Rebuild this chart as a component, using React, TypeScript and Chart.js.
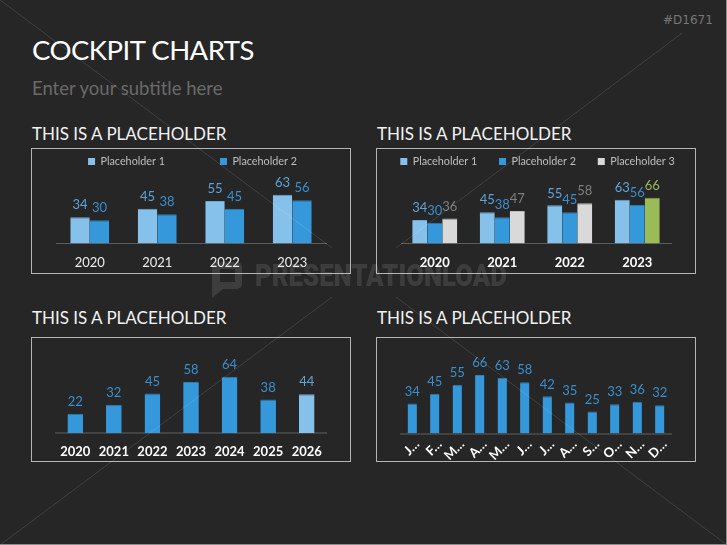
import React, { useEffect, useRef } from "react";
import { Chart, registerables } from "chart.js";

Chart.register(...registerables);

const years4 = ["2020", "2021", "2022", "2023"];
const years7 = ["2020", "2021", "2022", "2023", "2024", "2025", "2026"];
const months = ["J…", "F…", "M…", "A…", "M…", "J…", "J…", "A…", "S…", "O…", "N…", "D…"];

const series1 = [34, 45, 55, 63];
const series2 = [30, 38, 45, 56];
const series3 = [36, 47, 58, 66];
const sevenYears = [22, 32, 45, 58, 64, 38, 44];
const monthly = [34, 45, 55, 66, 63, 58, 42, 35, 25, 33, 36, 32];

const LIGHT = "#85c1ea";
const BLUE = "#3498db";
const GREY = "#d9d9d9";
const GREEN = "#9bbb59";
const LIGHT_EDGE = "#6fa9d2";
const BLUE_EDGE = "#2e7fb5";
const GREY_EDGE = "#bdbdbd";
const GREEN_EDGE = "#84a04b";
const LIGHT_TEXT = "#5fa3d8";
const BLUE_TEXT = "#3a8fd0";
const GREY_TEXT = "#7f7f7f";
const GREEN_TEXT = "#9bbb59";
const FONT = "Lato";

const valueLabels = {
  id: "valueLabels",
  afterDatasetsDraw(chart: any) {
    const ctx = chart.ctx;
    ctx.save();
    ctx.font = `13px ${FONT}`;
    ctx.textAlign = "center";
    ctx.textBaseline = "middle";
    chart.data.datasets.forEach((ds: any, i: number) => {
      chart.getDatasetMeta(i).data.forEach((bar: any, j: number) => {
        ctx.fillStyle = ds.labelColors[j];
        ctx.fillText(String(ds.data[j]), bar.x, bar.y - 12);
      });
    });
    ctx.restore();
  },
};

function ds(label: string, data: number[], fill: string[], edge: string[], text: string[]) {
  return {
    label,
    data,
    yAxisID: "y",
    backgroundColor: fill,
    borderColor: edge,
    borderWidth: { top: 1, left: 0, right: 0, bottom: 0 },
    labelColors: text,
    legendColor: fill[0],
  };
}
const all = (n: number, c: string) => Array.from({ length: n }, () => c);

type Cfg = {
  left: number; top: number; width: number; height: number;
  labels: string[]; datasets: any[]; pxPerUnit: number; axisH: number; catPct: number;
  tickPad: number; bold: boolean; rotate?: number; labelOffset?: number; axisW: number; axisC: string;
  legend: boolean; legendSpaces?: number;
};

const hiddenSideAxis = (position: string, width: number) => ({
  position,
  display: true,
  min: 0,
  max: 100,
  afterFit: (s: any) => { s.width = width; },
  grid: { display: false, drawTicks: false },
  border: { display: false },
  ticks: { display: false },
});

function Panel({ cfg }: { cfg: Cfg }) {
  const ref = useRef<HTMLCanvasElement>(null);
  useEffect(() => {
    const chart = new Chart(ref.current!, {
      type: "bar",
      data: { labels: cfg.labels, datasets: cfg.datasets },
      plugins: [valueLabels],
      options: {
        animation: false,
        responsive: false,
        layout: { padding: { left: 3, right: 0, top: 0, bottom: 0 } },
        datasets: { bar: { barPercentage: 1, categoryPercentage: cfg.catPct } },
        plugins: {
          tooltip: { enabled: false },
          legend: {
            display: cfg.legend,
            position: "top",
            align: "center",
            labels: {
              boxWidth: 7,
              boxHeight: 7,
              padding: 8,
              color: "#bfbfbf",
              font: { family: FONT, size: 10.8 },
              generateLabels: (c: any) =>
                c.data.datasets.map((d: any, i: number) => ({
                  text: i < c.data.datasets.length - 1 ? d.label + "\u00a0".repeat(cfg.legendSpaces ?? 0) : d.label,
                  fillStyle: d.legendColor,
                  strokeStyle: d.legendColor,
                  lineWidth: 0,
                  fontColor: "#bfbfbf",
                  datasetIndex: i,
                })),
            },
          },
        },
        scales: {
          y: hiddenSideAxis("left", 22),
          yRight: hiddenSideAxis("right", 25),
          x: {
            afterFit: (s: any) => { s.height = cfg.axisH; },
            grid: { display: false, drawTicks: false },
            border: { display: true, color: cfg.axisC, width: cfg.axisW },
            ticks: {
              color: cfg.bold ? "#ffffff" : "#eeeeee",
              padding: cfg.tickPad,
              labelOffset: cfg.labelOffset ?? 0,
              autoSkip: false,
              maxRotation: cfg.rotate ?? 0,
              minRotation: cfg.rotate ?? 0,
              font: { family: FONT, size: 13, weight: cfg.bold ? "bold" : "normal" },
            },
          },
        },
      } as any,
    });
    (chart.options as any).scales.y.max = chart.chartArea.height / cfg.pxPerUnit;
    chart.update();
    return () => chart.destroy();
  }, [cfg]);
  return (
    <div style={{ position: "absolute", left: cfg.left, top: cfg.top, width: cfg.width, height: cfg.height }}>
      <canvas ref={ref} width={cfg.width} height={cfg.height} style={{ position: "absolute", left: 0, top: 0 }} />
      <div style={{ position: "absolute", inset: 0, border: "1px solid #b4b4b4", boxSizing: "border-box" }} />
    </div>
  );
}

const panels: Cfg[] = [
  {
    left: 31, top: 148, width: 320, height: 126, labels: years4, pxPerUnit: 0.773, axisH: 30.5, catPct: 0.577,
    tickPad: 12, bold: false, axisW: 1, axisC: "#5c5c5c", legend: true, legendSpaces: 17,
    datasets: [
      ds("Placeholder 1", series1, all(4, LIGHT), all(4, LIGHT_EDGE), all(4, LIGHT_TEXT)),
      ds("Placeholder 2", series2, all(4, BLUE), all(4, BLUE_EDGE), all(4, BLUE_TEXT)),
    ],
  },
  {
    left: 376, top: 148, width: 320, height: 126, labels: years4, pxPerUnit: 0.694, axisH: 30.5, catPct: 0.667,
    tickPad: 12, bold: true, axisW: 1, axisC: "#5c5c5c", legend: true, legendSpaces: 5,
    datasets: [
      ds("Placeholder 1", series1, all(4, LIGHT), all(4, LIGHT_EDGE), all(4, LIGHT_TEXT)),
      ds("Placeholder 2", series2, all(4, BLUE), all(4, BLUE_EDGE), all(4, BLUE_TEXT)),
      ds("Placeholder 3", series3,
        [GREY, GREY, GREY, GREEN], [GREY_EDGE, GREY_EDGE, GREY_EDGE, GREEN_EDGE],
        [GREY_TEXT, GREY_TEXT, GREY_TEXT, GREEN_TEXT]),
    ],
  },
  {
    left: 31, top: 337, width: 320, height: 125, labels: years7, pxPerUnit: 0.88, axisH: 29, catPct: 0.406,
    tickPad: 11, bold: true, axisW: 2, axisC: "#434343", legend: false,
    datasets: [
      ds("Series", sevenYears,
        [...all(6, BLUE), LIGHT], [...all(6, BLUE_EDGE), LIGHT_EDGE], [...all(6, BLUE_TEXT), LIGHT_TEXT]),
    ],
  },
  {
    left: 376, top: 337, width: 320, height: 125, labels: months, pxPerUnit: 0.885, axisH: 28.5, catPct: 0.415,
    tickPad: 3, labelOffset: 5, bold: true, rotate: 45, axisW: 2, axisC: "#434343", legend: false,
    datasets: [ds("Series", monthly, all(12, BLUE), all(12, BLUE_EDGE), all(12, BLUE_TEXT))],
  },
];

const text = (left: number, top: number, size: number, color: string, s: string, extra: any = {}) => (
  <div style={{
    position: "absolute", left, top, fontFamily: FONT, fontSize: size, color, lineHeight: `${Math.round(size * 1.2)}px`,
    whiteSpace: "nowrap", ...extra,
  }}>{s}</div>
);

export default function App() {
  useEffect(() => { document.body.style.margin = "0"; }, []);
  return (
    <div style={{ position: "fixed", left: 0, top: 0, width: 727, height: 545, background: "#262626", overflow: "hidden" }}>
      {text(663, 13, 12, "#777777", "#D1671", { fontFamily: "DejaVu Sans" })}
      {text(32, 33, 27.5, "#ffffff", "COCKPIT CHARTS", { letterSpacing: -0.5 })}
      {text(32, 77, 18.5, "#6a6a6a", "Enter your subtitle here")}
      {text(32, 124, 17, "#f2f2f2", "THIS IS A PLACEHOLDER")}
      {text(377, 124, 17, "#f2f2f2", "THIS IS A PLACEHOLDER")}
      {text(32, 308, 17, "#f2f2f2", "THIS IS A PLACEHOLDER")}
      {text(377, 308, 17, "#f2f2f2", "THIS IS A PLACEHOLDER")}
      {panels.map((p, i) => <Panel key={i} cfg={p} />)}
      <svg width={727} height={545} style={{ position: "absolute", left: 0, top: 0, pointerEvents: "none" }}>
        <g stroke="rgba(255,255,255,0.12)" strokeWidth={1}>
          <line x1={0} y1={0} x2={332} y2={248} />
          <line x1={682} y1={33} x2={396} y2={248} />
          <line x1={0} y1={545} x2={332} y2={297} />
          <line x1={727} y1={545} x2={396} y2={297} />
        </g>
        <g stroke="#8c8c8c" strokeWidth={1}>
          <line x1={726.5} y1={0} x2={726.5} y2={545} />
          <line x1={0} y1={544.5} x2={727} y2={544.5} />
        </g>
        <g fill="rgba(255,255,255,0.11)">
          <path fillRule="evenodd" d="M218 262h19a5 5 0 0 1 5 5v17a5 5 0 0 1 -5 5h-14l-11 9v-31a5 5 0 0 1 5 -5zM220 269v13h15v-13z" />
          <text x={255} y={286} fontFamily="Roboto" fontWeight={900} fontSize={31} textLength={252} lengthAdjust="spacingAndGlyphs">PRESENTATIONLOAD</text>
        </g>
      </svg>
    </div>
  );
}
